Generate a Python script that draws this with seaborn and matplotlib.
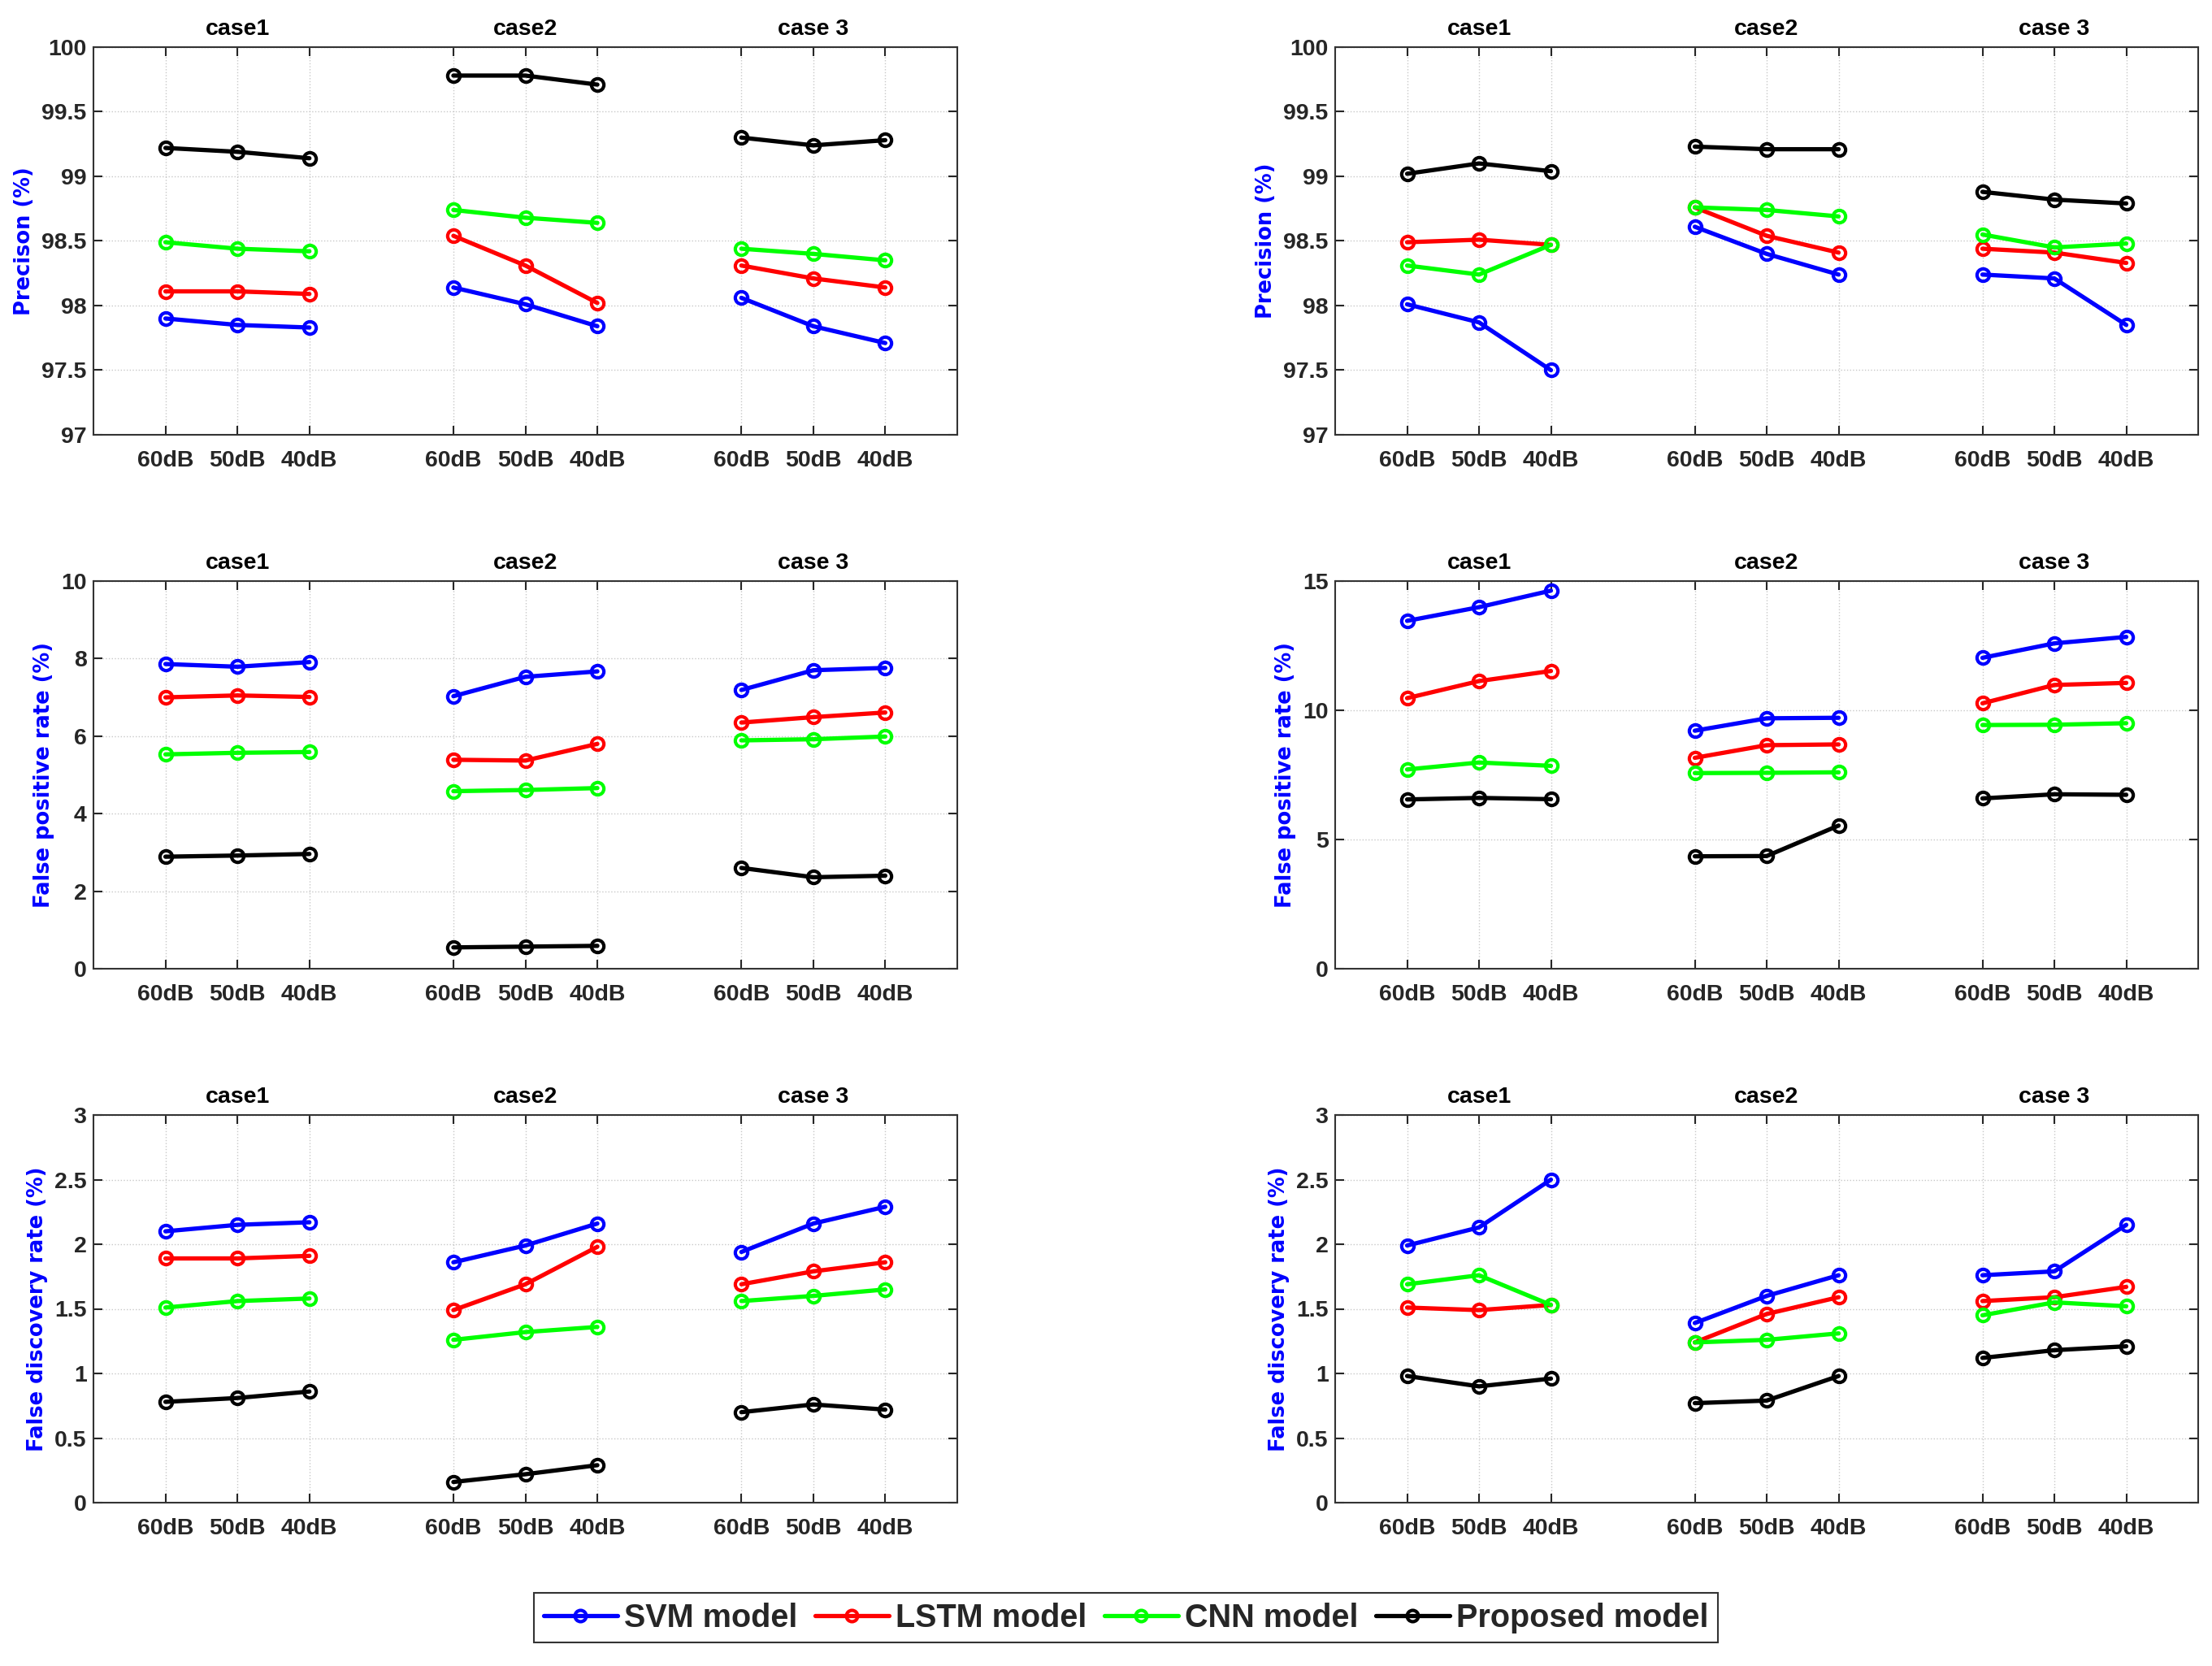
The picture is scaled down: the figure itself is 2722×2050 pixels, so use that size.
import numpy as np
import pandas as pd
import matplotlib
matplotlib.use('Agg')
import matplotlib.pyplot as plt
import seaborn as sns
from matplotlib.lines import Line2D
from matplotlib.ticker import FuncFormatter
from matplotlib.transforms import blended_transform_factory

# x layout: three cases, three noise levels each
db_labels = ['60dB', '50dB', '40dB']
case_names = ['case1', 'case2', 'case 3']
models = ['SVM model', 'LSTM model', 'CNN model', 'Proposed model']
colors = ['#0000ff', '#ff0000', '#00ff00', '#000000']

# top-left: precision
prec_l_svm = [97.90, 97.85, 97.83, 98.14, 98.01, 97.84, 98.06, 97.84, 97.71]
prec_l_lstm = [98.11, 98.11, 98.09, 98.54, 98.31, 98.02, 98.31, 98.21, 98.14]
prec_l_cnn = [98.49, 98.44, 98.42, 98.74, 98.68, 98.64, 98.44, 98.40, 98.35]
prec_l_prop = [99.22, 99.19, 99.14, 99.78, 99.78, 99.71, 99.30, 99.24, 99.28]

# top-right: precision
prec_r_svm = [98.01, 97.87, 97.50, 98.61, 98.40, 98.24, 98.24, 98.21, 97.85]
prec_r_lstm = [98.49, 98.51, 98.47, 98.76, 98.54, 98.41, 98.44, 98.41, 98.33]
prec_r_cnn = [98.31, 98.24, 98.47, 98.76, 98.74, 98.69, 98.55, 98.45, 98.48]
prec_r_prop = [99.02, 99.10, 99.04, 99.23, 99.21, 99.21, 98.88, 98.82, 98.79]

# middle-left: false positive rate
fpr_l_svm = [7.86, 7.79, 7.91, 7.03, 7.53, 7.67, 7.19, 7.70, 7.76]
fpr_l_lstm = [7.00, 7.05, 7.01, 5.39, 5.37, 5.80, 6.35, 6.49, 6.61]
fpr_l_cnn = [5.53, 5.57, 5.59, 4.58, 4.61, 4.66, 5.89, 5.92, 5.99]
fpr_l_prop = [2.89, 2.92, 2.96, 0.55, 0.57, 0.59, 2.60, 2.36, 2.40]

# middle-right: false positive rate
fpr_r_svm = [13.46, 13.99, 14.63, 9.21, 9.69, 9.71, 12.03, 12.59, 12.84]
fpr_r_lstm = [10.47, 11.13, 11.52, 8.16, 8.65, 8.68, 10.27, 10.98, 11.06]
fpr_r_cnn = [7.71, 7.98, 7.85, 7.57, 7.58, 7.60, 9.43, 9.44, 9.50]
fpr_r_prop = [6.55, 6.61, 6.56, 4.35, 4.36, 5.54, 6.59, 6.75, 6.73]

# bottom-left: false discovery rate
fdr_l_svm = [2.10, 2.15, 2.17, 1.86, 1.99, 2.16, 1.94, 2.16, 2.29]
fdr_l_lstm = [1.89, 1.89, 1.91, 1.49, 1.69, 1.98, 1.69, 1.79, 1.86]
fdr_l_cnn = [1.51, 1.56, 1.58, 1.26, 1.32, 1.36, 1.56, 1.60, 1.65]
fdr_l_prop = [0.78, 0.81, 0.86, 0.16, 0.22, 0.29, 0.70, 0.76, 0.72]

# bottom-right: false discovery rate
fdr_r_svm = [1.99, 2.13, 2.50, 1.39, 1.60, 1.76, 1.76, 1.79, 2.15]
fdr_r_lstm = [1.51, 1.49, 1.53, 1.24, 1.46, 1.59, 1.56, 1.59, 1.67]
fdr_r_cnn = [1.69, 1.76, 1.53, 1.24, 1.26, 1.31, 1.45, 1.55, 1.52]
fdr_r_prop = [0.98, 0.90, 0.96, 0.77, 0.79, 0.98, 1.12, 1.18, 1.21]

sns.set_theme(style='ticks')
plt.rcParams['font.family'] = ['Liberation Sans', 'DejaVu Sans']
plt.rcParams['font.weight'] = 'bold'

pos = [1, 2, 3, 5, 6, 7, 9, 10, 11]
case_col = [c for c in case_names for _ in range(3)]

panels = [
    ('Precison (%)', [prec_l_svm, prec_l_lstm, prec_l_cnn, prec_l_prop], (97, 100), np.arange(97, 100.1, 0.5)),
    ('Precision (%)', [prec_r_svm, prec_r_lstm, prec_r_cnn, prec_r_prop], (97, 100), np.arange(97, 100.1, 0.5)),
    ('False positive rate (%)', [fpr_l_svm, fpr_l_lstm, fpr_l_cnn, fpr_l_prop], (0, 10), np.arange(0, 10.1, 2)),
    ('False positive rate (%)', [fpr_r_svm, fpr_r_lstm, fpr_r_cnn, fpr_r_prop], (0, 15), np.arange(0, 15.1, 5)),
    ('False discovery rate (%)', [fdr_l_svm, fdr_l_lstm, fdr_l_cnn, fdr_l_prop], (0, 3), np.arange(0, 3.01, 0.5)),
    ('False discovery rate (%)', [fdr_r_svm, fdr_r_lstm, fdr_r_cnn, fdr_r_prop], (0, 3), np.arange(0, 3.01, 0.5)),
]

W, H = 2722, 2050
fig = plt.figure(figsize=(W / 100, H / 100), dpi=100)

lefts = [115, 1643]
widths = [1063, 1062]
tops = [58, 715, 1372]
ax_h = 477

for i, (ylab, series, ylim, yticks) in enumerate(panels):
    r, c = divmod(i, 2)
    rect = [lefts[c] / W, (H - tops[r] - ax_h) / H, widths[c] / W, ax_h / H]
    ax = fig.add_axes(rect)

    for name, vals, col in zip(models, series, colors):
        df = pd.DataFrame({'pos': pos, 'val': vals, 'case': case_col})
        sns.lineplot(data=df, x='pos', y='val', units='case', estimator=None,
                     color=col, lw=3.8, marker='o', markersize=11,
                     markerfacecolor='none', markeredgecolor=col,
                     markeredgewidth=3, legend=False, ax=ax)

    ax.set_xlim(0, 12)
    ax.set_ylim(*ylim)
    ax.set_xticks(pos)
    ax.set_xticklabels(db_labels * 3)
    ax.set_yticks(yticks)
    ax.yaxis.set_major_formatter(FuncFormatter(lambda v, p: f'{v:g}'))
    ax.grid(True, color='#c8c8c8', lw=1, linestyle=':')
    ax.tick_params(direction='in', length=8, width=1.5, top=True, right=True,
                   labelsize=20.5, colors='#262626')
    ax.tick_params(axis='x', pad=14)
    ax.tick_params(axis='y', pad=6)
    for lab in ax.get_xticklabels() + ax.get_yticklabels():
        lab.set_fontweight('bold')
    for sp in ax.spines.values():
        sp.set_color('#333333')
        sp.set_linewidth(1.5)
    ax.set_xlabel('')
    ax.set_ylabel(ylab, color='#0000ff', fontsize=18.5, fontweight='bold',
                  family=['DejaVu Sans'], labelpad=6)

    tr = blended_transform_factory(ax.transData, ax.transAxes)
    for k, cname in enumerate(case_names):
        ax.text(pos[3 * k + 1], 1.047, cname, transform=tr, ha='center', va='center',
                fontsize=20.5, fontweight='bold', color='black')

handles = [Line2D([], [], color=col, lw=3.8, marker='o', markersize=10,
                  markerfacecolor='none', markeredgecolor=col, markeredgewidth=3)
           for col in colors]
leg = fig.legend(handles, models, loc='center', bbox_to_anchor=(0.509, 0.029), ncol=4,
                 prop={'weight': 'bold', 'size': 28.5}, handlelength=2.3, handletextpad=0.2,
                 columnspacing=0.55, borderpad=0.3, fancybox=False, edgecolor='#333333',
                 framealpha=1)
leg.get_frame().set_linewidth(1.5)

fig.savefig('out.png', dpi=100)
